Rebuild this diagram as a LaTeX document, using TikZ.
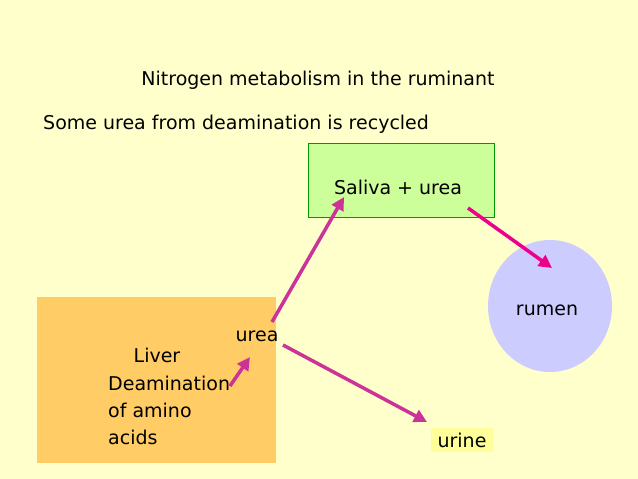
\documentclass[tikz,border=0pt]{standalone}
\usepackage{fontspec}
\setmainfont{DejaVu Sans}
\usetikzlibrary{arrows.meta,shapes.geometric}
\definecolor{bg}{HTML}{FFFFCC}
\definecolor{liver}{HTML}{FFCC66}
\definecolor{sal}{HTML}{CCFF99}
\definecolor{rum}{HTML}{CCCCFF}
\definecolor{ur}{HTML}{FFFF99}
\definecolor{arr}{HTML}{CC3399}
\tikzset{lbl/.style={font=\fontsize{19}{27}\selectfont, inner sep=1pt},
 arw/.style={draw=arr, line width=3.5pt, -{Triangle[length=13pt,width=13pt]}}}
\begin{document}
\begin{tikzpicture}[x=1pt,y=-1pt]
\fill[bg] (0,0) rectangle (638,479);
\useasboundingbox (0,0) rectangle (638,479);
\node[fill=liver, minimum width=239pt, minimum height=166pt, inner sep=0pt] (liver) at (156.5,380) {};
\node[fill=sal, draw=green!60!black, line width=0.5pt, minimum width=186pt, minimum height=74pt, inner sep=0pt] (salbox) at (401,180) {};
\node[fill=rum, ellipse, minimum width=124pt, minimum height=132pt, inner sep=0pt] (rumenshape) at (550,306) {};
\node[lbl] (title) at (318,80) {Nitrogen metabolism in the ruminant};
\node[lbl, anchor=west] (sub) at (42,124) {Some urea from deamination is recycled};
\node[lbl] (saliva) at (398,187) {Saliva + urea};
\node[lbl] (rumen) at (547,310) {rumen};
\node[lbl] (urea) at (257,336) {urea};
\node[lbl] (livert) at (157,355) {Liver};
\node[lbl, anchor=north west, align=left, inner sep=0pt] (deam) at (108,376) {Deamination\\of amino\\acids};
\node[lbl, fill=ur, minimum width=62pt, minimum height=24pt] (urine) at (462,440) {urine};
\coordinate (d1) at (230,386);
\draw[arw] (d1) -- (250,357);
\draw[arw] (272,322) -- (344,197);
\draw[arw] (283,345) -- (427,422);
\draw[arw, draw=magenta] (468,208) -- (552,268);
\end{tikzpicture}
\end{document}
